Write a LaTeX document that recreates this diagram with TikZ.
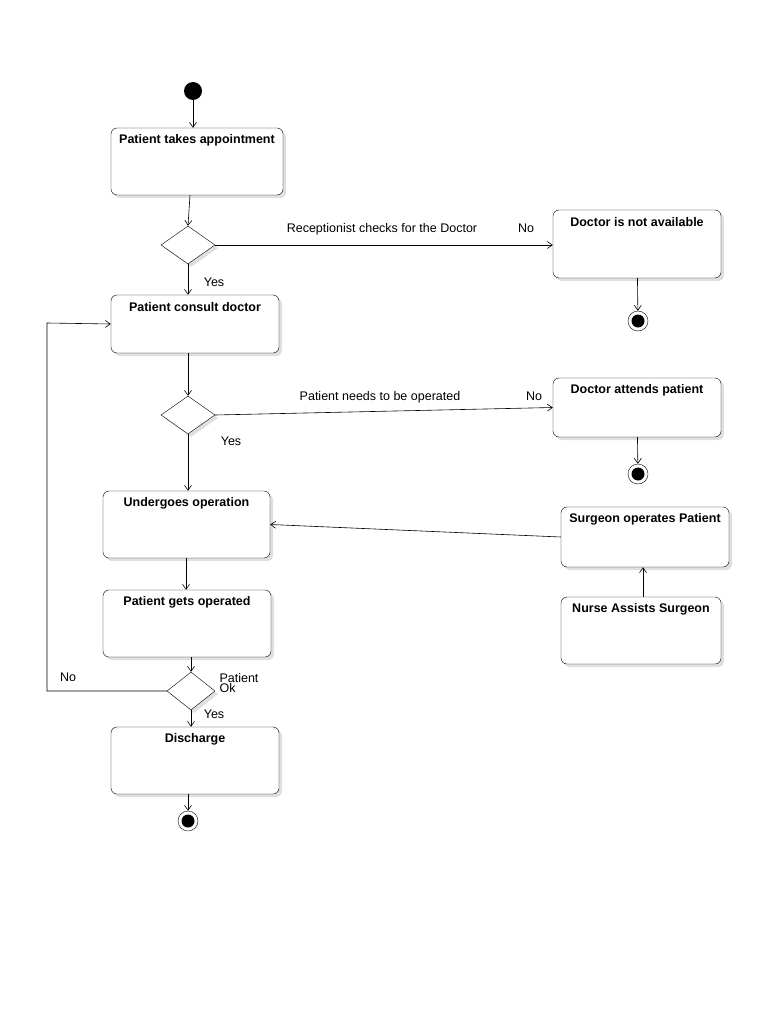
\documentclass[tikz,border=0pt]{standalone}
\usepackage{fontspec}
\setmainfont{Liberation Sans}
\usetikzlibrary{shapes.geometric,arrows.meta,shadows}
\begin{document}
\begin{tikzpicture}[x=1pt,y=-1pt,
 act/.style={draw,rounded corners=6pt,fill=white,drop shadow={shadow xshift=3pt,shadow yshift=-3pt,opacity=.25},inner sep=0pt},
 ttl/.style={font=\fontsize{12.5}{14}\selectfont\bfseries,inner sep=0pt},
 dec/.style={draw,diamond,fill=white,minimum width=54pt,minimum height=38pt,inner sep=0pt,drop shadow={shadow xshift=3pt,shadow yshift=-3pt,opacity=.25}},
 arr/.style={-{Straight Barb[length=5pt,width=7pt]},line width=0.6pt},
 lbl/.style={font=\fontsize{12.5}{13}\selectfont,inner sep=1pt},
 fin/.style={draw,circle,minimum size=20pt,inner sep=0pt,fill=white}]
\useasboundingbox (0,0) rectangle (768,1024);
\fill[white] (0,0) rectangle (768,1024);
\newcommand\actbox[6]{\node[act,minimum width=#4-#2,minimum height=#5-#3] (#1) at ({(#2+#4)/2},{(#3+#5)/2}) {}; \node[ttl] at ({(#2+#4)/2},#3+12) {#6};}
\newcommand\finnode[3]{\node[fin] (#1) at (#2,#3) {}; \fill (#1.center) circle (6.5pt);}
\node[circle,fill=black,minimum size=18pt,inner sep=0pt] (s) at (193,91) {};
\actbox{a1}{111}{128}{283}{195}{Patient takes appointment}
\node[dec] (d1) at (188,245) {};
\actbox{na}{553}{210}{721}{278}{Doctor is not available}
\finnode{e1}{638}{321}
\actbox{cd}{111}{295}{279}{353}{Patient consult doctor}
\node[dec] (d2) at (188,415) {};
\actbox{da}{553}{378}{721}{437}{Doctor attends patient}
\finnode{e2}{638}{474}
\actbox{uo}{103}{491}{270}{558}{Undergoes operation}
\actbox{so}{561}{507}{729}{567}{Surgeon operates Patient}
\actbox{ns}{561}{597}{721}{664}{Nurse Assists Surgeon}
\actbox{go}{103}{590}{271}{657}{Patient gets operated}
\node[dec,minimum width=48pt,minimum height=38pt] (d3) at (191,691) {};
\actbox{dc}{111}{727}{279}{794}{Discharge}
\finnode{e3}{188}{821}
\coordinate (c1) at (47,691); \coordinate (c2) at (47,323);
\draw[arr] (s) -- (s |- a1.north);
\draw[arr] (190,195) -- (d1.north);
\draw[arr] (d1.east) -- (d1.east -| na.west);
\draw[arr] (na) -- (e1);
\draw[arr] (d1.south) -- (cd.north -| d1);
\draw[arr] (cd.south -| d2) -- (d2.north);
\draw[arr] (d2.east) -- (da.west);
\draw[arr] (da) -- (e2);
\draw[arr] (d2.south) -- (uo.north -| d2);
\draw[arr] (so.west) -- (uo.east);
\draw[arr] (ns.north -| 643,0) -- (so.south -| 643,0);
\draw[arr] (uo.south -| 186,0) -- (go.north -| 186,0);
\draw[arr] (go.south -| d3) -- (d3.north);
\draw[arr] (d3.west) -- (c1) -- (c2) -- (cd.west);
\draw[arr] (d3.south) -- (dc.north -| d3);
\draw[arr] (dc.south -| e3) -- (e3);
\node[lbl] at (382,229) {Receptionist checks for the Doctor};
\node[lbl] at (526,228) {No};
\node[lbl] at (214,282) {Yes};
\node[lbl] at (380,397) {Patient needs to be operated};
\node[lbl] at (534,396) {No};
\node[lbl] at (231,441) {Yes};
\node[lbl] at (68,677) {No};
\node[lbl,align=left] at (239,683) {Patient\\[-3pt]Ok};
\node[lbl] at (214,714) {Yes};
\end{tikzpicture}
\end{document}
